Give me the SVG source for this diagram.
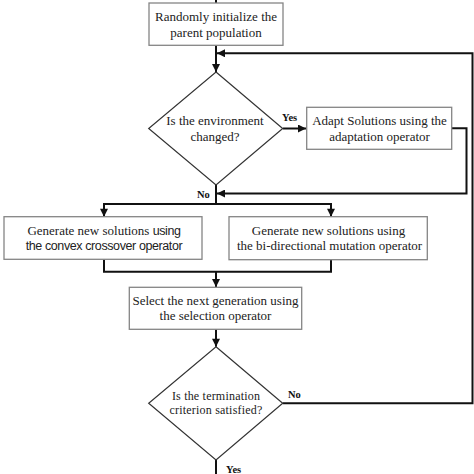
<svg xmlns="http://www.w3.org/2000/svg" width="474" height="474" viewBox="0 0 474 474">
<style>
.box{fill:#fff;stroke:#858585;stroke-width:1.3}
.dia{fill:#fff;stroke:#333;stroke-width:1.2}
.t{font-family:"Liberation Serif","Times New Roman",serif;font-size:13px;fill:#222;text-anchor:middle}
.ts{font-family:"Liberation Sans",Arial,sans-serif;font-size:12.5px;letter-spacing:-0.4px}
.td{font-family:"Liberation Serif","Times New Roman",serif;font-size:12px;fill:#222;text-anchor:middle;letter-spacing:0.2px}
.lb{font-family:"Liberation Serif","Times New Roman",serif;font-size:10.5px;font-weight:bold;fill:#111}
.c{fill:none;stroke:#111;stroke-width:2}
</style>
<defs>
<marker id="ah" viewBox="0 0 10 10" refX="10" refY="5" markerWidth="9" markerHeight="8" markerUnits="userSpaceOnUse" orient="auto">
<path d="M0,0 L10,5 L0,10 z" fill="#111"/>
</marker>
</defs>
<g id="connectors">
<line class="c" x1="216" y1="0" x2="216" y2="3"/>
<line class="c" x1="216" y1="45" x2="216" y2="72" marker-end="url(#ah)"/>
<path class="c" d="M282.7,403.3 H472.5 V53.3 H217" marker-end="url(#ah)"/>
<line class="c" x1="283" y1="128.5" x2="306" y2="128.5" marker-end="url(#ah)"/>
<path class="c" d="M452,128.3 H466.5 V193.5 H217" marker-end="url(#ah)"/>
<line class="c" x1="216" y1="185" x2="216" y2="204"/>
<path class="c" d="M104,216.5 V204 H331 V216.5"/>
<line class="c" x1="104" y1="205" x2="104" y2="216.7" marker-end="url(#ah)"/>
<line class="c" x1="331" y1="205" x2="331" y2="216.7" marker-end="url(#ah)"/>
<path class="c" d="M104,259.5 V271.7 H331 V260"/>
<line class="c" x1="216" y1="271.7" x2="216" y2="287" marker-end="url(#ah)"/>
<line class="c" x1="216" y1="329.3" x2="216" y2="346.7" marker-end="url(#ah)"/>
<line class="c" x1="216" y1="460" x2="216" y2="474"/>
</g>
<g id="labels">
<text class="lb" x="282" y="120.5">Yes</text>
<text class="lb" x="197" y="198">No</text>
<text class="lb" x="288" y="398">No</text>
<text class="lb" x="226" y="472.5">Yes</text>
</g>
<g id="init">
<rect class="box" x="149" y="3" width="134" height="42.3"/>
<text class="t" x="216" y="21">Randomly initialize the</text>
<text class="t" x="216" y="37">parent population</text>
</g>
<g id="env-check">
<polygon class="dia" points="216,72 282.7,128.5 216,185 148.7,128.5"/>
<text class="t" x="215" y="124.5">Is the environment</text>
<text class="t" x="215" y="140.5">changed?</text>
</g>
<g id="adapt">
<rect class="box" x="306.7" y="107.3" width="145" height="42"/>
<text class="t" x="379.5" y="125">Adapt Solutions using the</text>
<text class="t" x="379.5" y="141">adaptation operator</text>
</g>
<g id="crossover">
<rect class="box" x="4" y="216.7" width="198" height="42.6"/>
<text class="t" x="104" y="234.5">Generate new solutions <tspan class="ts">using</tspan></text>
<text class="t ts" x="104" y="250">the convex crossover operator</text>
</g>
<g id="mutation">
<rect class="box" x="229" y="216.7" width="198.3" height="43"/>
<text class="t" x="328.5" y="234.5">Generate new solutions using</text>
<text class="t" x="329.5" y="250">the bi-directional mutation operator</text>
</g>
<g id="selection">
<rect class="box" x="129.3" y="287.3" width="172.4" height="42"/>
<text class="t" x="215.5" y="304.5">Select the next generation using</text>
<text class="t" x="215.5" y="320">the selection operator</text>
</g>
<g id="termination">
<polygon class="dia" points="216,346.7 282.7,403.3 216,460 148.7,403.3"/>
<text class="td" x="216" y="399.5">Is the termination</text>
<text class="td" x="216" y="414">criterion satisfied?</text>
</g>
</svg>
